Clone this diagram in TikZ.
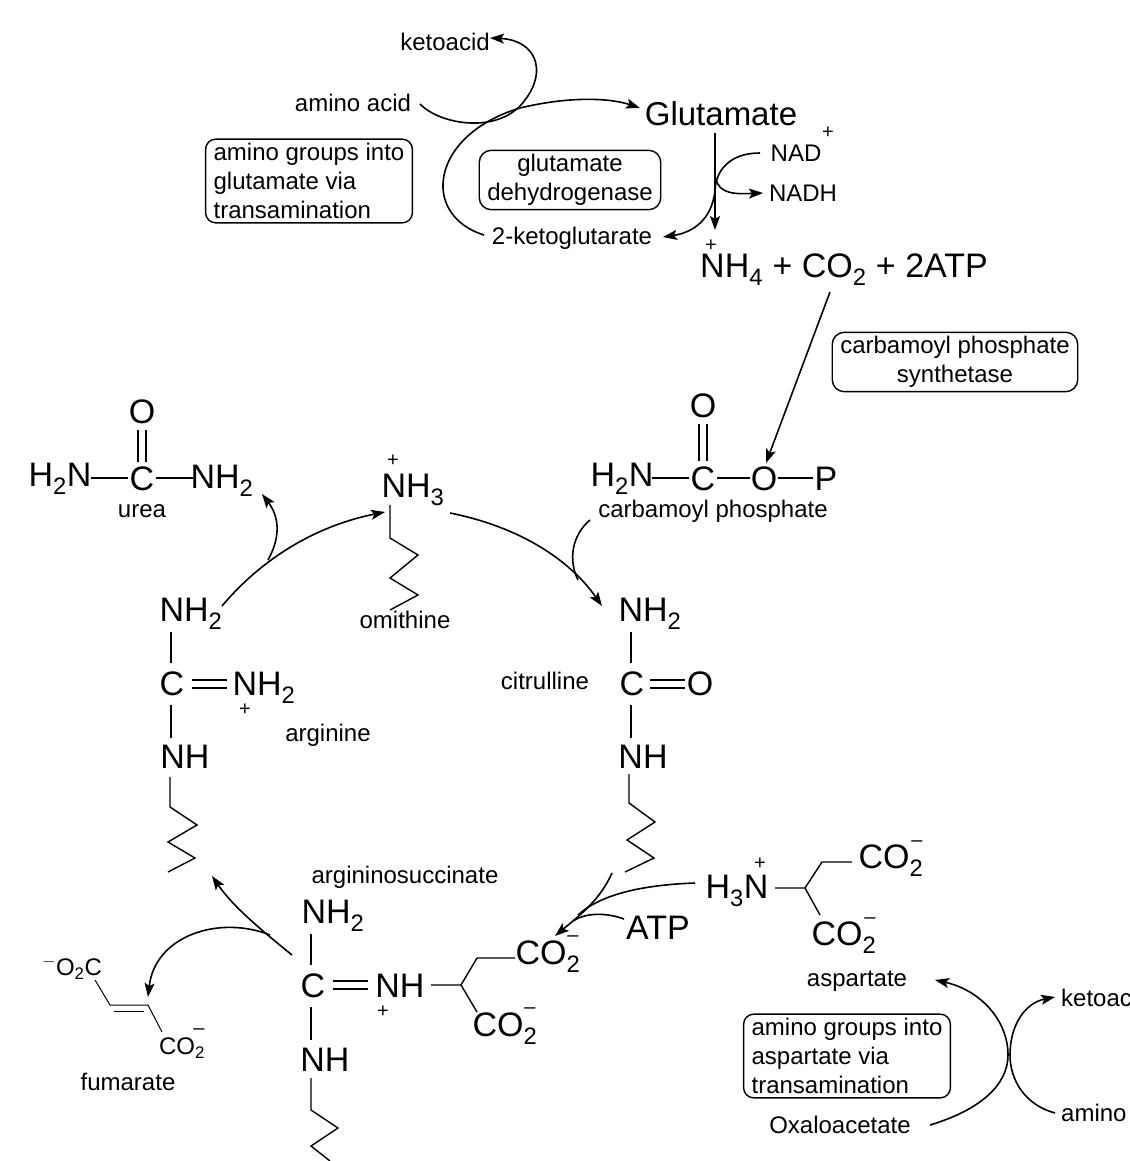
\documentclass[tikz,border=0pt]{standalone}
\usepackage{fontspec}
\setmainfont{Liberation Sans}
\usetikzlibrary{arrows.meta}
\newcommand{\sbs}[1]{\textsubscript{#1}}
\begin{document}
\begin{tikzpicture}[x=1pt,y=-1pt,
  lab/.style={font=\fontsize{24}{28}\selectfont,inner sep=1pt},
  chem/.style={font=\fontsize{34}{38}\selectfont,inner sep=0pt},
  pl/.style={font=\fontsize{20}{22}\selectfont,inner sep=0pt},
  box/.style={draw,rounded corners=10pt,line width=1.4pt,font=\fontsize{24}{29}\selectfont,inner xsep=8pt,inner ysep=4pt},
  ln/.style={line width=1.6pt},
  bd/.style={line width=1.4pt},
  arr/.style={line width=1.6pt,-{Stealth[length=14pt,width=10pt,inset=3pt]}}]
\path[use as bounding box] (0,0) rectangle (1129,1161);
\clip (0,0) rectangle (1129,1161);

% ---------- top: glutamate ----------
\node[lab] (keto) at (445,42) {ketoacid};
\node[lab] (aa) at (353,103) {amino acid};
\node[font=\fontsize{33}{36}\selectfont,inner sep=1pt] (glu) at (721,114) {Glutamate};
\node[lab] (kg) at (572,238) {2-ketoglutarate};
\node[lab] (nad) at (796,153) {NAD};
\node[pl] (nadp) at (828,133) {+};
\node[lab] (nadh) at (803,193) {NADH};
\node[box,align=left] (b1) at (309,181) {amino groups into\\glutamate via\\transamination};
\node[box,align=center,rounded corners=12pt] (b2) at (570,180) {glutamate\\dehydrogenase};
\node[chem,anchor=west] (nh4) at (700,270) {NH\sbs{4} + CO\sbs{2} + 2ATP};
\node[pl] (nh4p) at (711,246) {+};
\node[box,align=center,rounded corners=12pt] (b3) at (955,362) {carbamoyl phosphate\\synthetase};

\coordinate (aa1) at (420,104);
\coordinate (kt1) at (490,38);
\draw[arr] (aa1) .. controls (440,125) and (500,135) .. (525,100)
  .. controls (548,70) and (535,40) .. (kt1);
\coordinate (kg1) at (484,235);
\coordinate (gl1) at (640,108);
\draw[arr] (kg1) .. controls (420,215) and (430,135) .. (520,108)
  .. controls (570,96) and (610,98) .. (gl1);
\coordinate (g0) at (715,133);
\coordinate (g1) at (715,230);
\draw[arr] (g0) -- (g1);
\coordinate (na1) at (760,153);
\coordinate (kg2) at (663,237);
\draw[arr] (na1) .. controls (730,153) and (716,170) .. (715,190)
  .. controls (712,222) and (690,233) .. (kg2);
\coordinate (nh1) at (716,178);
\coordinate (nh2) at (763,193);
\draw[arr] (nh1) .. controls (718,195) and (738,194) .. (nh2);
\coordinate (c1) at (830,292);
\coordinate (c2) at (766,463);
\draw[arr] (c1) -- (c2);

% ---------- carbamoyl phosphate ----------
\node[chem] (cpN) at (622,479) {H\sbs{2}N};
\node[chem] (cpC) at (703,479) {C};
\node[chem] (cpO) at (764,479) {O};
\node[chem] (cpP) at (826,479) {P};
\node[chem] (cpOO) at (703,406) {O};
\draw[bd] (652,478) -- (689,478) (717,478) -- (750,478) (778,478) -- (813,478);
\draw[bd] (699,424) -- (699,461) (707,424) -- (707,461);
\node[lab] (cpl) at (713,511) {carbamoyl phosphate};

% ---------- urea ----------
\node[chem] (uN) at (60,479) {H\sbs{2}N};
\node[chem] (uC) at (142,479) {C};
\node[chem] (uN2) at (222,481) {NH\sbs{2}};
\node[chem] (uO) at (142,412) {O};
\draw[bd] (91,478) -- (128,478) (156,478) -- (193,478);
\draw[bd] (138,430) -- (138,462) (146,430) -- (146,462);
\node[lab] (ul) at (142,511) {urea};

% ---------- ornithine ----------
\node[chem] (oN) at (413,490) {NH\sbs{3}};
\node[pl] (oNp) at (393,461) {+};
\draw[bd] (390,505) -- (390,538) -- (418,555) -- (390,578) -- (418,595) -- (390,610);
\node[lab] (ol) at (405,620) {omithine};

% ---------- arginine ----------
\node[chem] (aN) at (191,614) {NH\sbs{2}};
\node[chem] (aC) at (172,684) {C};
\node[chem] (aN2) at (264,688) {NH\sbs{2}};
\node[pl] (aN2p) at (245,710) {+};
\node[chem] (aNH) at (185,757) {NH};
\draw[bd] (171,632) -- (171,663) (171,705) -- (171,738);
\draw[bd] (192,680) -- (227,680) (192,688) -- (227,688);
\draw[bd] (170,777) -- (170,807) -- (197,825) -- (168,842) -- (195,858) -- (168,872);
\node[lab] (al) at (328,735) {arginine};

% ---------- citrulline ----------
\node[chem] (ciN) at (650,614) {NH\sbs{2}};
\node[chem] (ciC) at (632,684) {C};
\node[chem] (ciO) at (700,684) {O};
\node[chem] (ciNH) at (643,757) {NH};
\draw[bd] (631,632) -- (631,663) (631,705) -- (631,738);
\draw[bd] (650,680) -- (685,680) (650,688) -- (685,688);
\draw[bd] (629,774) -- (629,803) -- (655,822) -- (627,840) -- (654,858) -- (625,872);
\node[lab] (cil) at (545,681) {citrulline};

% ---------- argininosuccinate ----------
\node[lab] (asl) at (405,877) {argininosuccinate};
\node[chem] (sN) at (333,916) {NH\sbs{2}};
\node[chem] (sC) at (313,986) {C};
\node[chem] (sNH) at (400,986) {NH};
\node[pl] (sNHp) at (383,1012) {+};
\node[chem] (sNH2) at (325,1060) {NH};
\node[chem] (sCO1) at (548,957) {CO\sbs{2}};
\node[pl] (sCO1m) at (573,939) {--};
\node[chem] (sCO2) at (505,1029) {CO\sbs{2}};
\node[pl] (sCO2m) at (530,1011) {--};
\draw[bd] (311,934) -- (311,965) (311,1007) -- (311,1040);
\draw[bd] (333,981) -- (368,981) (333,989) -- (368,989);
\draw[bd] (431,985) -- (461,985) (461,985) -- (477,958) -- (515,958) (461,985) -- (477,1012);
\draw[bd] (311,1078) -- (311,1110) -- (338,1128) -- (311,1146) -- (330,1161);

% ---------- fumarate ----------
\node[lab] (fO) at (72,968) {$^{-}$O\sbs{2}C};
\node[lab] (fC) at (182,1048) {CO\sbs{2}};
\node[pl] (fCm) at (199,1032) {--};
\node[lab] (fl) at (128,1082) {fumarate};
\draw[line width=1pt] (95,980) -- (110,1005) -- (148,1005) -- (162,1032);
\draw[line width=1pt] (114,1011) -- (144,1011);

% ---------- aspartate ----------
\node[chem] (dN) at (737,891) {H\sbs{3}N};
\node[pl] (dNp) at (760,864) {+};
\node[chem] (dCO1) at (891,861) {CO\sbs{2}};
\node[pl] (dCO1m) at (917,844) {--};
\node[chem] (dCO2) at (844,938) {CO\sbs{2}};
\node[pl] (dCO2m) at (870,921) {--};
\draw[bd] (775,888) -- (805,888) (805,888) -- (822,862) -- (852,862) (805,888) -- (820,915);
\node[lab] (dl) at (857,981) {aspartate};
\node[chem] (atp) at (658,928) {ATP};

% ---------- bottom right ----------
\node[box,align=left] (b4) at (847,1056) {amino groups into\\aspartate via\\transamination};
\node[lab] (oxa) at (840,1125) {Oxaloacetate};
\node[lab,anchor=west] (ka2) at (1060,998) {ketoacid};
\node[lab,anchor=west] (aa2) at (1060,1113) {amino acid};
\coordinate (ox1) at (930,1125);
\coordinate (as1) at (935,980);
\draw[arr] (ox1) .. controls (980,1110) and (1008,1085) .. (1008,1055)
  .. controls (1008,1020) and (980,990) .. (as1);
\coordinate (am1) at (1055,1113);
\coordinate (ko1) at (1055,997);
\draw[arr] (am1) .. controls (1025,1105) and (1010,1080) .. (1010,1055)
  .. controls (1010,1025) and (1025,1003) .. (ko1);

% ---------- cycle arrows ----------
\coordinate (r1) at (222,606);
\coordinate (r2) at (385,512);
\draw[arr] (r1) .. controls (265,555) and (320,525) .. (r2);
\coordinate (r3) at (262,494);
\draw[arr] (268,560) .. controls (282,535) and (278,515) .. (r3);
\coordinate (r4) at (450,513);
\coordinate (r5) at (602,606);
\draw[arr] (r4) .. controls (520,527) and (570,560) .. (r5);
\coordinate (r6) at (590,520);
\draw[ln] (r6) .. controls (572,535) and (568,560) .. (578,580);
\coordinate (r7) at (612,873);
\coordinate (r8) at (555,936);
\draw[arr] (r7) .. controls (600,900) and (580,915) .. (r8);
\coordinate (r9) at (695,883);
\draw[ln] (r9) .. controls (640,885) and (600,895) .. (578,915);
\coordinate (r10) at (624,919);
\draw[ln] (r10) .. controls (605,912) and (585,913) .. (573,921);
\coordinate (r11) at (292,955);
\coordinate (r12) at (212,876);
\draw[arr] (r11) .. controls (255,925) and (232,905) .. (r12);
\coordinate (r13) at (270,935);
\coordinate (r14) at (148,997);
\draw[arr] (r13) .. controls (220,915) and (155,935) .. (r14);
\end{tikzpicture}
\end{document}
